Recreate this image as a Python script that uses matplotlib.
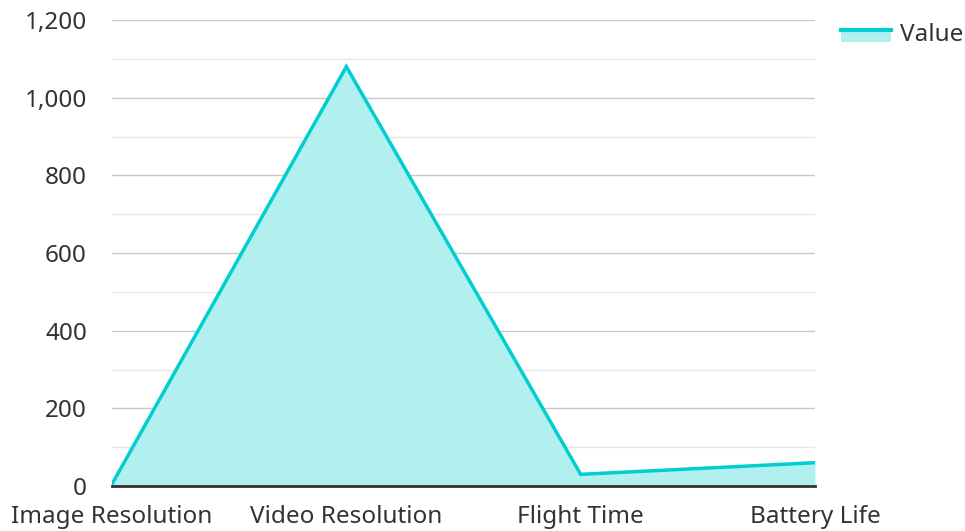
import matplotlib.pyplot as plt
from matplotlib.legend_handler import HandlerBase
from matplotlib.patches import Rectangle
from matplotlib.lines import Line2D
from matplotlib.ticker import MultipleLocator, FuncFormatter

plt.rcParams['font.family'] = ['Noto Sans', 'DejaVu Sans']

# datos del grafico
categorias = ['Image Resolution', 'Video Resolution', 'Flight Time', 'Battery Life']
valores = [5, 1080, 30, 60]
nombre_serie = 'Value'

color_linea = '#00CED1'
color_relleno = '#B2F0EF'
color_texto = '#333333'
tam = 17.5


class HandlerArea(HandlerBase):
    # rectangulo relleno con la linea por encima, como en la leyenda original
    def create_artists(self, legend, orig_handle, xdescent, ydescent,
                       width, height, fontsize, trans):
        top = -ydescent + height * 0.68
        rect = Rectangle((-xdescent, top - height * 0.75), width, height * 0.75,
                         facecolor=color_relleno, edgecolor='none', transform=trans)
        linea = Line2D([-xdescent, -xdescent + width], [top, top],
                       color=color_linea, lw=3, transform=trans)
        return [rect, linea]


fig = plt.figure(figsize=(9.65, 5.31), dpi=100)
ax = fig.add_axes([112 / 965, 1 - 486 / 531, (815 - 112) / 965, (486 - 20) / 531])

x = list(range(len(categorias)))
ax.fill_between(x, valores, 0, color=color_relleno, lw=0, zorder=2)
ax.plot(x, valores, color=color_linea, lw=2.5, zorder=3, solid_joinstyle='miter')

ax.set_xlim(0, len(categorias) - 1)
ax.set_ylim(0, 1200)
ax.set_xticks(x)
ax.set_xticklabels(categorias)
ax.yaxis.set_major_locator(MultipleLocator(200))
ax.yaxis.set_minor_locator(MultipleLocator(100))
ax.yaxis.set_major_formatter(FuncFormatter(lambda v, p: f'{int(v):,}'))

ax.grid(axis='y', which='major', color='#c8c8c8', lw=1, zorder=1)
ax.grid(axis='y', which='minor', color='#e6e6e6', lw=1, zorder=1)

for lado in ['top', 'right', 'left']:
    ax.spines[lado].set_visible(False)
ax.spines['bottom'].set_color(color_texto)
ax.spines['bottom'].set_linewidth(2)
ax.spines['bottom'].set_zorder(4)

ax.tick_params(axis='y', which='both', length=0, pad=18, labelsize=tam, labelcolor=color_texto)
ax.tick_params(axis='x', length=0, pad=14, labelsize=tam, labelcolor=color_texto)

proxy = Rectangle((0, 0), 1, 1)
fig.legend([proxy], [nombre_serie], handler_map={Rectangle: HandlerArea()},
           loc='upper right', bbox_to_anchor=(1.0 + 11 / 965, 1.0 - 11 / 531), frameon=False,
           fontsize=tam, handlelength=2.06, handletextpad=0.4,
           labelcolor=color_texto, borderaxespad=0.2, borderpad=0.3)

fig.savefig('out.png', dpi=100)
